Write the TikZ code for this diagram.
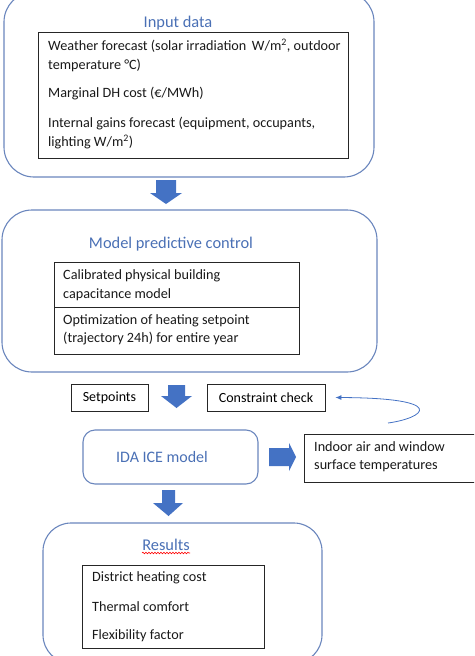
\documentclass[tikz,border=0pt]{standalone}
\usepackage{fontspec}
\setmainfont{Carlito}
\usetikzlibrary{decorations.pathmorphing,arrows.meta}
\definecolor{boxblue}{HTML}{6A86BD}
\definecolor{titleblue}{HTML}{4A70B5}
\definecolor{arrblue}{HTML}{4472C4}
\tikzset{
  outer/.style={draw=boxblue, line width=1.1pt},
  inner/.style={draw=black!85, line width=0.9pt},
  title/.style={text=titleblue, font=\fontsize{16.4}{19}\selectfont, inner sep=0pt},
  txt/.style={anchor=west, font=\fontsize{14.2}{16}\selectfont, inner sep=0pt, text=black!90},
  blockarrow/.style={fill=arrblue, draw=none},
  smallbox/.style={draw=black!85, line width=0.8pt, inner sep=0pt}
}
\begin{document}
\begin{tikzpicture}[x=1pt,y=-1pt]
\useasboundingbox (0,0) rectangle (474,656);
\begin{scope}
\clip (0,0) rectangle (474,656);
% Input data
\node[outer, rounded corners=30pt, minimum width=370pt, minimum height=185pt, inner sep=0pt] (inbox) at (189,84.5) {};
\node[title] (intitle) at (178,23) {Input data};
\node[inner, minimum width=310pt, minimum height=126pt, inner sep=0pt] (inrect) at (193,95) {};
\node[txt] (w1) at (48,46) {Weather forecast (solar irradiation\, W/m\textsuperscript{2}, outdoor};
\node[txt] (w2) at (48,65) {temperature °C)};
\node[txt] (m1) at (48,94) {Marginal DH cost (€/MWh)};
\node[txt] (g1) at (48,124) {Internal gains forecast (equipment, occupants,};
\node[txt] (g2) at (48,142) {lighting W/m\textsuperscript{2})};

% arrow 1
\fill[blockarrow] (156,180) -- (176,180) -- (176,193) -- (182,193) -- (166,204) -- (150,193) -- (156,193) -- cycle;

% MPC
\node[outer, rounded corners=30pt, minimum width=375pt, minimum height=162pt, inner sep=0pt] (mpcbox) at (189.5,291) {};
\node[title] (mpctitle) at (171,244) {Model predictive control};
\node[inner, minimum width=245pt, minimum height=45pt, inner sep=0pt] (mpc1) at (176.5,284.5) {};
\node[inner, minimum width=245pt, minimum height=47pt, inner sep=0pt] (mpc2) at (176.5,330.5) {};
\node[txt] (c1) at (63,276) {Calibrated physical building};
\node[txt] (c2) at (63,295) {capacitance model};
\node[txt] (o1) at (63,321) {Optimization of heating setpoint};
\node[txt] (o2) at (63,339) {(trajectory 24h) for entire year};

% middle row
\node[smallbox, minimum width=77pt, minimum height=27pt, font=\fontsize{14}{16}\selectfont] (setp) at (109.5,397.5) {Setpoints};
\fill[blockarrow] (168,385) -- (185,385) -- (185,396) -- (192,396) -- (176.5,408) -- (161,396) -- (168,396) -- cycle;
\node[smallbox, minimum width=118pt, minimum height=27pt, font=\fontsize{14}{16}\selectfont] (cc) at (266,397.5) {Constraint check};

% IDA ICE
\node[outer, rounded corners=12pt, minimum width=175pt, minimum height=54pt, inner sep=0pt] (ida) at (170.5,457) {};
\node[title, font=\fontsize{16}{19}\selectfont] (idatext) at (162,457) {IDA ICE model};
\fill[blockarrow] (269,448) -- (289,448) -- (289,443) -- (296,457) -- (289,471) -- (289,466) -- (269,466) -- cycle;
\node[smallbox, minimum width=172pt, minimum height=48pt] (indoor) at (390,458) {};
\node[txt] (i1) at (314,447) {Indoor air and window};
\node[txt] (i2) at (314,466) {surface temperatures};
\coordinate (fbstart) at (388,423);
\draw[draw=arrblue, line width=0.8pt, -{Latex[length=6pt,width=5pt]}] (fbstart) .. controls (425,418) and (450,398) .. ([xshift=10pt]cc.east);

% arrow 3
\fill[blockarrow] (162,490) -- (175,490) -- (175,503) -- (183,503) -- (168.5,516) -- (153,503) -- (162,503) -- cycle;

% Results
\node[outer, rounded corners=28pt, minimum width=279pt, minimum height=140pt, inner sep=0pt] (resbox) at (182.5,593) {};
\node[title] (restitle) at (166,545) {Results};
\draw[red, line width=0.6pt, decorate, decoration={snake, amplitude=0.8pt, segment length=3pt}] (142,553) -- (190,553);
\node[inner, minimum width=182pt, minimum height=83pt, inner sep=0pt] (resrect) at (173,606.5) {};
\node[txt] (r1) at (92,578) {District heating cost};
\node[txt] (r2) at (92,607) {Thermal comfort};
\node[txt] (r3) at (92,636) {Flexibility factor};
\end{scope}
\end{tikzpicture}
\end{document}
